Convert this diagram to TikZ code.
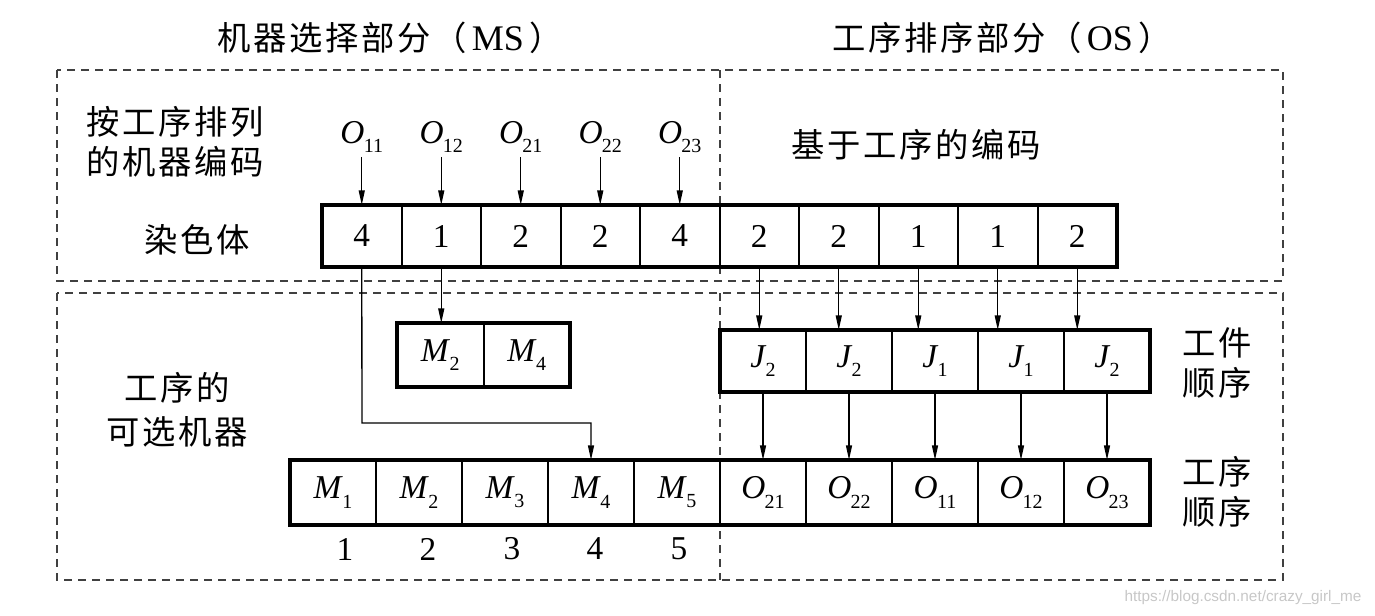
\documentclass[tikz,border=0pt]{standalone}
\usepackage{fontspec}
\setmainfont{Liberation Serif}
\newfontfamily\cjk[LetterSpace=8]{Noto Sans CJK SC}
\newfontfamily\wmfont{Liberation Sans}
\usetikzlibrary{arrows.meta}
\newcommand\vsub[2]{\textit{#1}\kern-0.5pt\raisebox{-0.28em}{\fontsize{15}{15}\selectfont #2}}
\tikzset{
 cell/.style={draw, line width=1.5pt, fill=white, inner sep=0pt, outer sep=0pt, font=\fontsize{25}{25}\selectfont},
 bigbox/.style={line width=2.8pt},
 region/.style={line width=1.4pt, dash pattern=on 6pt off 4.5pt, color=black!75},
 arr/.style={line width=1pt, -{Triangle[length=11pt,width=4.5pt]}},
 zh/.style={font=\cjk\fontsize{25}{30}\selectfont, align=center, inner sep=0pt},
 lat/.style={font=\fontsize{25}{25}\selectfont, inner sep=0pt}
}
\begin{document}
\begin{tikzpicture}[x=0.75pt,y=-0.75pt]
\useasboundingbox (0,0) rectangle (1375,615);
% regions
\draw[region] (57,70) rectangle (1283,281);
\draw[region] (57,293) rectangle (1283,580);
\draw[region] (720,70) -- (720,281);
\draw[region] (720,293) -- (720,580);
% titles
\node[zh] (t1) at (390,38) {机器选择部分（\kern4pt{\rmfamily\fontsize{27}{27}\selectfont MS}\kern4pt）};
\node[zh] (t2) at (1002,38) {工序排序部分（\kern4pt{\rmfamily\fontsize{27}{27}\selectfont OS}\kern4pt）};
% left labels
\node[zh] (l1) at (175,142) {按工序排列\\的机器编码};
\node[zh] (l2) at (197,240) {染色体};
\node[zh] (l3) at (916,145) {基于工序的编码};
\node[zh, font=\cjk\fontsize{25}{33}\selectfont] (l4) at (177,410) {工序的\\可选机器};
\node[zh] (l5) at (1217,363) {工件\\顺序};
\node[zh] (l6) at (1217,492) {工序\\顺序};
% chromosome
\foreach \v [count=\i] in {4,1,2,2,4,2,2,1,1,2}
  \node[cell, minimum width=59.625pt, minimum height=46.5pt] (c\i) at ({322+79.5*(\i-0.5)},236) {\v};
\draw[bigbox] (c1.north west) rectangle (c10.south east);
% operation labels
\foreach \s [count=\i] in {11,12,21,22,23}
  \node[lat] (o\i) at ({322+79.5*(\i-0.5)},137) {\vsub{O}{\s}};
\foreach \i in {1,...,5}
  \draw[arr] ([yshift=-3pt]o\i.south) -- (c\i.north);
% M2 M4 box
\node[cell, minimum width=64.875pt, minimum height=48pt] (mb1) at (440.25,355) {\vsub{M}{2}};
\node[cell, minimum width=64.875pt, minimum height=48pt] (mb2) at (526.75,355) {\vsub{M}{4}};
\draw[bigbox] (mb1.north west) rectangle (mb2.south east);
% J row
\foreach \s [count=\i] in {2,2,1,1,2}
  \node[cell, minimum width=64.5pt, minimum height=46.5pt] (j\i) at ({720+86*(\i-0.5)},361) {\vsub{J}{\s}};
\draw[bigbox] (j1.north west) rectangle (j5.south east);
% bottom row
\foreach \l/\s [count=\i] in {M/1,M/2,M/3,M/4,M/5,O/21,O/22,O/11,O/12,O/23}
  \node[cell, minimum width=64.5pt, minimum height=48.75pt] (b\i) at ({290+86*(\i-0.5)},492.5) {\vsub{\l}{\s}};
\draw[bigbox] (b1.north west) rectangle (b10.south east);
% numbers
\node[lat] (n1) at (345,549) {1};
\node[lat] (n2) at (428,549) {2};
\node[lat] (n3) at (512,549) {3};
\node[lat] (n4) at (595,549) {4};
\node[lat] (n5) at (679,549) {5};
% arrows
\draw[arr] (c2.south) -- (c2.south |- mb1.north);
\coordinate (turn) at (362,423);
\draw[arr] (c1.south) -- (turn) -| (b4.north);
\foreach \a/\b in {6/1,7/2,8/3,9/4,10/5}
  \draw[arr] (c\a.south) -- (c\a.south |- j\b.north);
\foreach \a/\b in {1/6,2/7,3/8,4/9,5/10}
  \draw[arr] (j\a.south) -- (b\b.north);
% watermark
\node[font=\wmfont\fontsize{11.5}{11.5}\selectfont, text=black!22, inner sep=0pt] (wm) at (1243,598) {https://blog.csdn.net/crazy\_girl\_me};
\end{tikzpicture}
\end{document}
